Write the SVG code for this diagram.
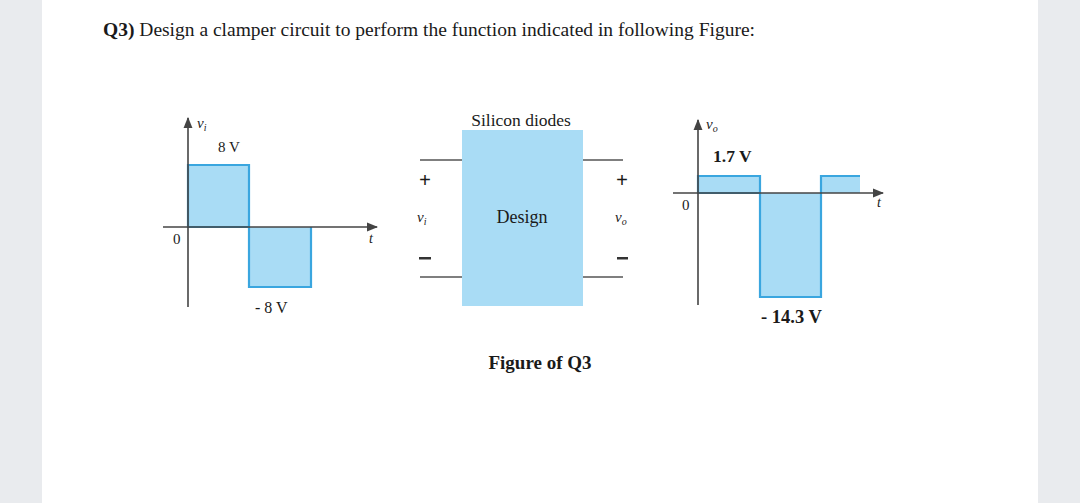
<svg xmlns="http://www.w3.org/2000/svg" width="1080" height="503" viewBox="0 0 1080 503">
<defs>
<style>
.serif{font-family:"Liberation Serif","Times New Roman",serif;fill:#1a1a1a}
.ax{stroke:#444;stroke-width:1.6;fill:none}
.wave{fill:#a9dcf5;stroke:#3aa6df;stroke-width:2.2}
.wire{stroke:#555;stroke-width:1.6}
.sign{fill:#333}
</style>
<marker id="arr" viewBox="0 0 10 10" refX="9" refY="5" markerWidth="7" markerHeight="7" orient="auto-start-reverse">
<path d="M0,1 L10,5 L0,9 z" fill="#444"/>
</marker>
</defs>
<rect x="0" y="0" width="1080" height="503" fill="#e9ebee"/>
<rect x="42" y="0" width="996" height="503" fill="#ffffff"/>
<text class="serif" x="103" y="36" font-size="19.5" textLength="652" lengthAdjust="spacingAndGlyphs"><tspan font-weight="bold">Q3)</tspan> Design a clamper circuit to perform the function indicated in following Figure:</text>

<g id="input-graph">
<path class="wave" d="M188,227 V165 H249 V227 Z"/>
<path class="wave" d="M249,227 V287 H311 V227"/>
<line class="ax" x1="188" y1="307" x2="188" y2="118" marker-end="url(#arr)"/>
<line class="ax" x1="163" y1="227" x2="377" y2="227" marker-end="url(#arr)"/>
<text class="serif" x="197" y="128" font-size="15" font-style="italic">v<tspan font-size="10" dy="3">i</tspan></text>
<text class="serif" x="218" y="152" font-size="15">8 V</text>
<text class="serif" x="173" y="244" font-size="15">0</text>
<text class="serif" x="369" y="243" font-size="14" font-style="italic">t</text>
<text class="serif" x="255" y="313" font-size="16">- 8 V</text>
</g>

<g id="design-block">
<rect x="462" y="130" width="121" height="176" fill="#a9dcf5"/>
<line class="wire" x1="420" y1="160" x2="462" y2="160"/>
<line class="wire" x1="420" y1="277" x2="462" y2="277"/>
<line class="wire" x1="583" y1="160" x2="623" y2="160"/>
<line class="wire" x1="583" y1="277" x2="623" y2="277"/>
<text class="serif" x="521" y="126" font-size="17.5" text-anchor="middle">Silicon diodes</text>
<text class="serif" x="522" y="223" font-size="18" text-anchor="middle">Design</text>
<text class="serif" x="425" y="187" font-size="21" font-weight="bold" text-anchor="middle">+</text>
<text class="serif" x="417" y="222" font-size="15" font-style="italic">v<tspan font-size="10" dy="3">i</tspan></text>
<rect class="sign" x="419" y="257" width="12" height="2.5"/>
<text class="serif" x="622" y="187" font-size="21" font-weight="bold" text-anchor="middle">+</text>
<text class="serif" x="615" y="222" font-size="15" font-style="italic">v<tspan font-size="10" dy="3">o</tspan></text>
<rect class="sign" x="617" y="257" width="11" height="2.5"/>
</g>

<g id="output-graph">
<path class="wave" d="M698,193 V176 H760 V193 Z"/>
<path class="wave" d="M760,193 V297 H821 V193"/>
<path d="M821,193 V176 H860 V193 Z" fill="#a9dcf5"/>
<path d="M821,193 V176 H860" fill="none" stroke="#3aa6df" stroke-width="2.2"/>
<line class="ax" x1="698" y1="305" x2="698" y2="120" marker-end="url(#arr)"/>
<line class="ax" x1="673" y1="193" x2="883" y2="193" marker-end="url(#arr)"/>
<text class="serif" x="706" y="129" font-size="15" font-style="italic">v<tspan font-size="10" dy="3">o</tspan></text>
<text class="serif" x="713" y="162" font-size="17.5" font-weight="bold">1.7 V</text>
<text class="serif" x="682" y="210" font-size="15">0</text>
<text class="serif" x="877" y="207" font-size="14" font-style="italic">t</text>
<text class="serif" x="761" y="323" font-size="18.5" font-weight="bold">- 14.3 V</text>
</g>

<text class="serif" x="540" y="369" font-size="19" font-weight="bold" text-anchor="middle">Figure of Q3</text>
</svg>
